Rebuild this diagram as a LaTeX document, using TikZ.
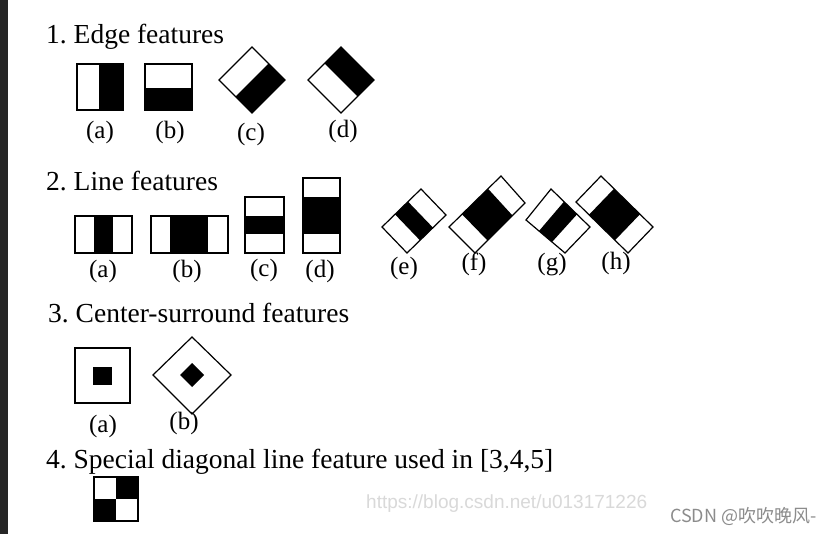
\documentclass[tikz,border=0pt]{standalone}
\usepackage{fontspec}
\setmainfont{Liberation Serif}
\newfontfamily\cjk{Noto Sans CJK SC}
\usetikzlibrary{calc}
\frenchspacing
\newcommand{\rbar}[6]{%
 \fill[black] ($(#1)!#5!(#2)$)--($(#1)!#6!(#2)$)--($(#3)!#6!(#4)$)--($(#3)!#5!(#4)$)--cycle;}
\begin{document}
\begin{tikzpicture}[x=1pt,y=-1pt,
 box/.style={draw=black,line width=1.2pt},
 ttl/.style={anchor=base west,inner sep=0pt,font=\fontsize{27.5}{30}\selectfont},
 lbl/.style={anchor=base,inner sep=0pt,font=\fontsize{25}{30}\selectfont}]
\fill[white] (0,0) rectangle (837,534);
\useasboundingbox (0,0) rectangle (837,534);
\fill[black!85] (0,0) rectangle (8,534);
% 1
\node[ttl] (t1) at (46,44) {1. Edge features};
\fill (99,64) rectangle (123,110); \draw[box] (77,64) rectangle (123,110);
\fill (145,88) rectangle (192,110); \draw[box] (145,64) rectangle (192,110);
\coordinate (cL) at (219,80); \coordinate (cT) at (252,47); \coordinate (cR) at (285,80); \coordinate (cB) at (252,113);
\fill ($(cT)!0.5!(cR)$)--(cR)--(cB)--($(cB)!0.5!(cL)$)--cycle;
\draw[box] (cL)--(cT)--(cR)--(cB)--cycle;
\coordinate (dL) at (308,80); \coordinate (dT) at (341,47); \coordinate (dR) at (374,80); \coordinate (dB) at (341,113);
\fill ($(dL)!0.5!(dT)$)--(dT)--(dR)--($(dR)!0.5!(dB)$)--cycle;
\draw[box] (dL)--(dT)--(dR)--(dB)--cycle;
\node[lbl] (l1a) at (100,139) {(a)};
\node[lbl] (l1b) at (170,139) {(b)};
\node[lbl] (l1c) at (251,141) {(c)};
\node[lbl] (l1d) at (343,138) {(d)};
% 2
\node[ttl] (t2) at (46,191) {2. Line features};
\fill (94,216) rectangle (113,253); \draw[box] (75,216) rectangle (132,253);
\fill (170,216) rectangle (208,253); \draw[box] (151,216) rectangle (228,253);
\fill (245,216) rectangle (284,234); \draw[box] (245,197) rectangle (284,253);
\fill (303,197) rectangle (340,234); \draw[box] (303,178) rectangle (340,253);
\coordinate (eA) at (382,227); \coordinate (eT) at (421,189); \coordinate (eR) at (446,215); \coordinate (eB) at (407,253);
\rbar{eA}{eT}{eB}{eR}{0.333}{0.667}
\draw[box] (eA)--(eT)--(eR)--(eB)--cycle;
\coordinate (fA) at (449,227); \coordinate (fT) at (501,176); \coordinate (fR) at (525,203); \coordinate (fB) at (475,253);
\rbar{fA}{fT}{fB}{fR}{0.25}{0.75}
\draw[box] (fA)--(fT)--(fR)--(fB)--cycle;
\coordinate (gA) at (526,220); \coordinate (gT) at (551,189); \coordinate (gR) at (590,227); \coordinate (gB) at (565,253);
\rbar{gT}{gR}{gA}{gB}{0.333}{0.667}
\draw[box] (gA)--(gT)--(gR)--(gB)--cycle;
\coordinate (hA) at (576,202); \coordinate (hT) at (601,176); \coordinate (hR) at (653,227); \coordinate (hB) at (628,253);
\rbar{hT}{hR}{hA}{hB}{0.25}{0.75}
\draw[box] (hA)--(hT)--(hR)--(hB)--cycle;
\node[lbl] (l2a) at (103,278) {(a)};
\node[lbl] (l2b) at (187,278) {(b)};
\node[lbl] (l2c) at (264,277) {(c)};
\node[lbl] (l2d) at (320,278) {(d)};
\node[lbl] (l2e) at (404,275) {(e)};
\node[lbl] (l2f) at (474,271) {(f)};
\node[lbl] (l2g) at (552,271) {(g)};
\node[lbl] (l2h) at (616,270) {(h)};
% 3
\node[ttl] (t3) at (48,323) {3. Center-surround features};
\fill (93,367) rectangle (112,385); \draw[box] (75,348) rectangle (130,403);
\fill (192,363)--(204,375)--(192,387)--(180,375)--cycle;
\draw[box] (153,375)--(192,337)--(231,375)--(192,414)--cycle;
\node[lbl] (l3a) at (103,432) {(a)};
\node[lbl] (l3b) at (184,429) {(b)};
% 4
\node[ttl] (t4) at (46,468) {4. Special diagonal line feature used in [3,4,5]};
\fill (116,477) rectangle (138,499); \fill (94,499) rectangle (116,521);
\draw[box] (94,477) rectangle (138,521);
% watermarks
\node[anchor=base west,inner sep=0pt,text=black!15,font=\fontspec{Liberation Sans}\fontsize{19}{22}\selectfont] (wm) at (366,508) {https://blog.csdn.net/u013171226};
\node[anchor=base west,inner sep=0pt,text=black!45,font=\cjk\fontsize{18}{22}\selectfont] (wm2) at (670,522) {CSDN @吹吹晚风-};
\end{tikzpicture}
\end{document}
